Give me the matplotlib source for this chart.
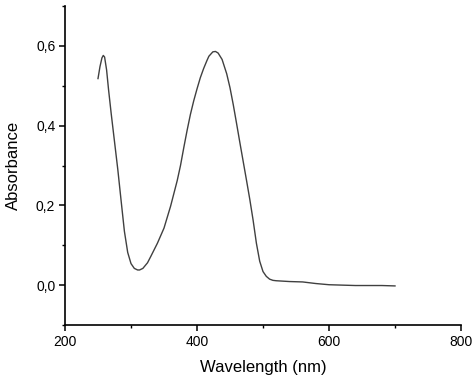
import matplotlib
matplotlib.use("Agg")
import matplotlib.pyplot as plt
from matplotlib.ticker import FuncFormatter, MultipleLocator

plt.rcParams['font.family'] = ['Liberation Sans', 'DejaVu Sans']

wavelength = [250, 253, 256, 258, 260, 263, 266, 270, 275, 280, 285, 290, 295,
              300, 305, 310, 313, 318, 325, 330, 340, 350, 360, 370, 375, 380,
              385, 390, 395, 400, 405, 410, 415, 418, 424, 428, 432, 438, 445,
              450, 455, 460, 465, 470, 475, 480, 485, 490, 495, 500, 505, 510,
              515, 520, 540, 560, 580, 600, 620, 640, 660, 680, 700]
absorbance = [0.518, 0.548, 0.570, 0.576, 0.572, 0.540, 0.490, 0.430, 0.360,
              0.290, 0.212, 0.135, 0.082, 0.054, 0.042, 0.038, 0.038, 0.042,
              0.056, 0.072, 0.105, 0.143, 0.198, 0.262, 0.300, 0.345, 0.388,
              0.428, 0.462, 0.492, 0.520, 0.543, 0.563, 0.574, 0.585, 0.586,
              0.582, 0.566, 0.530, 0.495, 0.452, 0.405, 0.357, 0.310, 0.263,
              0.215, 0.163, 0.105, 0.060, 0.034, 0.022, 0.015, 0.012, 0.011,
              0.009, 0.008, 0.004, 0.001, 0.000, -0.001, -0.001, -0.001,
              -0.002]

fig = plt.figure(figsize=(4.74, 3.79), dpi=100)
ax = fig.add_axes([65/474, 1-325/379, (461-65)/474, (325-6)/379])
ax.plot(wavelength, absorbance, color='#404040', lw=1.0)

ax.set_xlim(200, 800)
ax.set_ylim(-0.1, 0.7)
ax.spines['top'].set_visible(False)
ax.spines['right'].set_visible(False)
for s in ('left', 'bottom'):
    ax.spines[s].set_linewidth(1.2)
ax.xaxis.set_major_locator(MultipleLocator(200))
ax.xaxis.set_minor_locator(MultipleLocator(100))
ax.yaxis.set_major_locator(MultipleLocator(0.2))
ax.yaxis.set_minor_locator(MultipleLocator(0.1))
ax.yaxis.set_major_formatter(FuncFormatter(lambda v, p: f"{v:.1f}".replace('.', ',').replace('-0,0', '0,0')))
ax.tick_params(which='major', direction='out', length=4, width=1.1, labelsize=10, pad=3)
ax.tick_params(which='minor', direction='out', length=2.5, width=1.0)
ax.set_xlabel('Wavelength (nm)', fontsize=12, labelpad=8)
ax.set_ylabel('Absorbance', fontsize=12, labelpad=11)

fig.savefig('out.png', dpi=100)
